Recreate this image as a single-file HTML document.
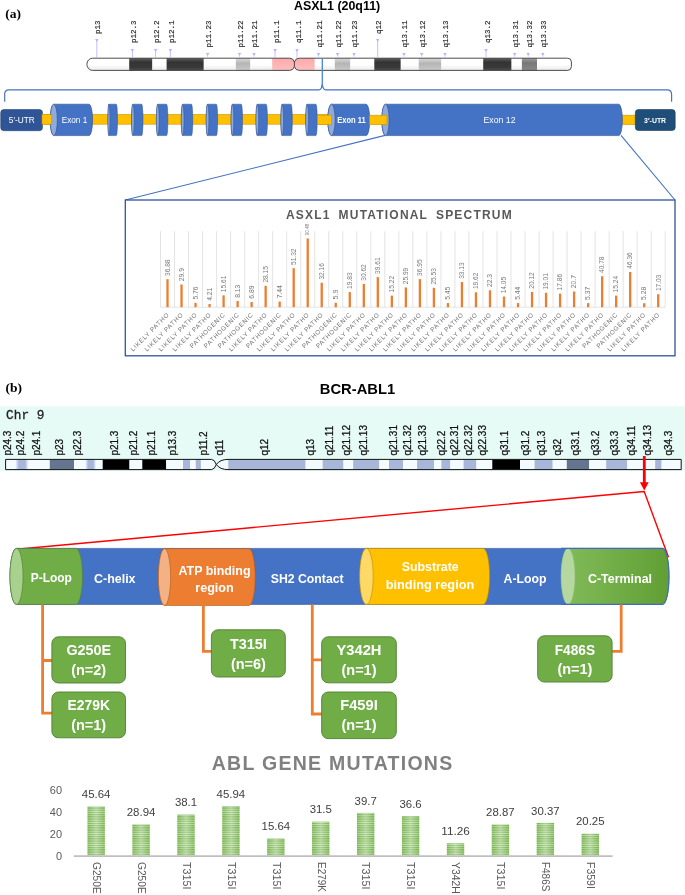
<!DOCTYPE html>
<html lang="en"><head><meta charset="utf-8"><title>ASXL1 and BCR-ABL1 mutational spectrum</title>
<style>html,body{margin:0;padding:0;background:#fff}body{width:685px;height:895px;overflow:hidden}svg{display:block}</style>
</head><body>
<svg width="685" height="895" viewBox="0 0 685 895">
<defs>
<linearGradient id="gDark" x1="0" y1="0" x2="0" y2="1"><stop offset="0" stop-color="#6a6a6a"/><stop offset="0.35" stop-color="#333"/><stop offset="0.7" stop-color="#3a3a3a"/><stop offset="1" stop-color="#5a5a5a"/></linearGradient>
<linearGradient id="gMid" x1="0" y1="0" x2="0" y2="1"><stop offset="0" stop-color="#a8a8a8"/><stop offset="0.4" stop-color="#777"/><stop offset="1" stop-color="#8c8c8c"/></linearGradient>
<linearGradient id="gLight" x1="0" y1="0" x2="0" y2="1"><stop offset="0" stop-color="#e2e2e2"/><stop offset="0.45" stop-color="#b4b4b4"/><stop offset="1" stop-color="#cfcfcf"/></linearGradient>
<linearGradient id="gWhite" x1="0" y1="0" x2="0" y2="1"><stop offset="0" stop-color="#fff"/><stop offset="0.5" stop-color="#fff"/><stop offset="1" stop-color="#e4e4e4"/></linearGradient>
<linearGradient id="gPink" x1="0" y1="0" x2="0" y2="1"><stop offset="0" stop-color="#ffa8a8"/><stop offset="0.5" stop-color="#ffb4b4"/><stop offset="1" stop-color="#f3c4c4"/></linearGradient>
<linearGradient id="gCterm" x1="0" y1="0" x2="1" y2="0"><stop offset="0" stop-color="#82bc5a"/><stop offset="1" stop-color="#619f34"/></linearGradient>
<linearGradient id="gBarH" x1="0" y1="0" x2="1" y2="0"><stop offset="0" stop-color="#fff" stop-opacity="0"/><stop offset="0.5" stop-color="#fff" stop-opacity="0.4"/><stop offset="1" stop-color="#fff" stop-opacity="0"/></linearGradient>
<pattern id="stripe" width="4" height="2.2" patternUnits="userSpaceOnUse"><rect width="4" height="2.2" fill="#72af48"/><rect y="1.3" width="4" height="0.9" fill="#b2d99a"/></pattern>
<linearGradient id="gB1" x1="0" y1="0" x2="1" y2="0"><stop offset="0" stop-color="#e8f0ff"/><stop offset="0.25" stop-color="#a8b6da"/><stop offset="0.75" stop-color="#a8b6da"/><stop offset="1" stop-color="#e8f0ff"/></linearGradient>
<clipPath id="c20"><path id="c20p" d="M92.5,58.2 H289.6 Q293.4,58.2 294.4,62 Q295.4,58.2 299.2,58.2 H567.6 Q571.4,58.2 571.4,62 V66.6 Q571.4,70.4 567.6,70.4 H299.2 Q295.4,70.4 294.4,66.6 Q293.4,70.4 289.6,70.4 H92.5 A5.6,6.1 0 0 1 92.5,58.2 Z M294.4,62 V66.6"/></clipPath>
</defs>
<rect width="685" height="895" fill="#fff"/>
<text x="5.3" y="18" font-family='"Liberation Serif", "Times New Roman", serif' font-weight="bold" font-size="13.5">(a)</text>
<text x="337.1" y="9.5" text-anchor="middle" font-family='"Liberation Sans", Arial, sans-serif' font-weight="bold" font-size="11.9" textLength="86.2" lengthAdjust="spacingAndGlyphs">ASXL1 (20q11)</text>
<g clip-path="url(#c20)">
<rect x="86" y="57" width="43.2" height="15" fill="url(#gWhite)"/>
<rect x="129.2" y="57" width="23.2" height="15" fill="url(#gDark)"/>
<rect x="152.4" y="57" width="14.2" height="15" fill="url(#gWhite)"/>
<rect x="166.6" y="57" width="37.2" height="15" fill="url(#gDark)"/>
<rect x="203.8" y="57" width="32.0" height="15" fill="url(#gWhite)"/>
<rect x="235.8" y="57" width="14.6" height="15" fill="url(#gLight)"/>
<rect x="250.4" y="57" width="21.8" height="15" fill="url(#gWhite)"/>
<rect x="272.2" y="57" width="42.6" height="15" fill="url(#gPink)"/>
<rect x="314.8" y="57" width="20.0" height="15" fill="url(#gWhite)"/>
<rect x="334.8" y="57" width="15.6" height="15" fill="url(#gLight)"/>
<rect x="350.4" y="57" width="23.9" height="15" fill="url(#gWhite)"/>
<rect x="374.3" y="57" width="26.5" height="15" fill="url(#gDark)"/>
<rect x="400.8" y="57" width="17.9" height="15" fill="url(#gWhite)"/>
<rect x="418.7" y="57" width="22.7" height="15" fill="url(#gLight)"/>
<rect x="441.4" y="57" width="41.8" height="15" fill="url(#gWhite)"/>
<rect x="483.2" y="57" width="28.4" height="15" fill="url(#gDark)"/>
<rect x="511.6" y="57" width="10.3" height="15" fill="url(#gWhite)"/>
<rect x="521.9" y="57" width="15.1" height="15" fill="url(#gMid)"/>
<rect x="537" y="57" width="35.0" height="15" fill="url(#gWhite)"/>
</g>
<use href="#c20p" fill="none" stroke="#3a3a3a" stroke-width="0.9"/>
<path d="M96.8,39.9 V58" stroke="#b9b9ff" stroke-width="0.9" fill="none"/>
<path d="M95.1,39.0 H98.5 L96.8,42.099999999999994 Z" fill="#b4b4ff"/>
<text transform="translate(100.2,20.6) rotate(-90)" text-anchor="end" font-family='"Liberation Mono", "Courier New", monospace' font-size="7.5" fill="#111" stroke="#111" stroke-width="0.12" textLength="13.5" lengthAdjust="spacingAndGlyphs">p13</text>
<path d="M132.4,49.800000000000004 V58" stroke="#b9b9ff" stroke-width="0.9" fill="none"/>
<path d="M130.70000000000002,48.900000000000006 H134.1 L132.4,52.0 Z" fill="#b4b4ff"/>
<text transform="translate(136.3,20.6) rotate(-90)" text-anchor="end" font-family='"Liberation Mono", "Courier New", monospace' font-size="7.5" fill="#111" stroke="#111" stroke-width="0.12" textLength="22.5" lengthAdjust="spacingAndGlyphs">p12.3</text>
<path d="M155.6,49.800000000000004 V58" stroke="#b9b9ff" stroke-width="0.9" fill="none"/>
<path d="M153.9,48.900000000000006 H157.29999999999998 L155.6,52.0 Z" fill="#b4b4ff"/>
<text transform="translate(159.4,20.6) rotate(-90)" text-anchor="end" font-family='"Liberation Mono", "Courier New", monospace' font-size="7.5" fill="#111" stroke="#111" stroke-width="0.12" textLength="22.5" lengthAdjust="spacingAndGlyphs">p12.2</text>
<path d="M170.4,49.800000000000004 V58" stroke="#b9b9ff" stroke-width="0.9" fill="none"/>
<path d="M168.70000000000002,48.900000000000006 H172.1 L170.4,52.0 Z" fill="#b4b4ff"/>
<text transform="translate(173.70000000000002,20.6) rotate(-90)" text-anchor="end" font-family='"Liberation Mono", "Courier New", monospace' font-size="7.5" fill="#111" stroke="#111" stroke-width="0.12" textLength="22.5" lengthAdjust="spacingAndGlyphs">p12.1</text>
<path d="M207.6,53.800000000000004 V58" stroke="#b9b9ff" stroke-width="0.5" fill="none"/>
<path d="M205.9,52.900000000000006 H209.29999999999998 L207.6,56.0 Z" fill="#b4b4ff"/>
<text transform="translate(211.0,20.6) rotate(-90)" text-anchor="end" font-family='"Liberation Mono", "Courier New", monospace' font-size="7.5" fill="#111" stroke="#111" stroke-width="0.12" textLength="27.0" lengthAdjust="spacingAndGlyphs">p11.23</text>
<path d="M239.5,53.800000000000004 V58" stroke="#b9b9ff" stroke-width="0.5" fill="none"/>
<path d="M237.8,52.900000000000006 H241.2 L239.5,56.0 Z" fill="#b4b4ff"/>
<text transform="translate(242.8,20.6) rotate(-90)" text-anchor="end" font-family='"Liberation Mono", "Courier New", monospace' font-size="7.5" fill="#111" stroke="#111" stroke-width="0.12" textLength="27.0" lengthAdjust="spacingAndGlyphs">p11.22</text>
<path d="M254,53.800000000000004 V58" stroke="#b9b9ff" stroke-width="0.5" fill="none"/>
<path d="M252.3,52.900000000000006 H255.7 L254,56.0 Z" fill="#b4b4ff"/>
<text transform="translate(257.3,20.6) rotate(-90)" text-anchor="end" font-family='"Liberation Mono", "Courier New", monospace' font-size="7.5" fill="#111" stroke="#111" stroke-width="0.12" textLength="27.0" lengthAdjust="spacingAndGlyphs">p11.21</text>
<path d="M275.1,49.800000000000004 V58" stroke="#b9b9ff" stroke-width="0.9" fill="none"/>
<path d="M273.40000000000003,48.900000000000006 H276.8 L275.1,52.0 Z" fill="#b4b4ff"/>
<text transform="translate(278.7,20.6) rotate(-90)" text-anchor="end" font-family='"Liberation Mono", "Courier New", monospace' font-size="7.5" fill="#111" stroke="#111" stroke-width="0.12" textLength="22.5" lengthAdjust="spacingAndGlyphs">p11.1</text>
<path d="M297,49.800000000000004 V58" stroke="#b9b9ff" stroke-width="0.9" fill="none"/>
<path d="M295.3,48.900000000000006 H298.7 L297,52.0 Z" fill="#b4b4ff"/>
<text transform="translate(300.5,20.6) rotate(-90)" text-anchor="end" font-family='"Liberation Mono", "Courier New", monospace' font-size="7.5" fill="#111" stroke="#111" stroke-width="0.12" textLength="22.5" lengthAdjust="spacingAndGlyphs">q11.1</text>
<path d="M318.5,53.800000000000004 V58" stroke="#b9b9ff" stroke-width="0.5" fill="none"/>
<path d="M316.8,52.900000000000006 H320.2 L318.5,56.0 Z" fill="#b4b4ff"/>
<text transform="translate(322.1,20.6) rotate(-90)" text-anchor="end" font-family='"Liberation Mono", "Courier New", monospace' font-size="7.5" fill="#111" stroke="#111" stroke-width="0.12" textLength="27.0" lengthAdjust="spacingAndGlyphs">q11.21</text>
<path d="M337.6,53.800000000000004 V58" stroke="#b9b9ff" stroke-width="0.5" fill="none"/>
<path d="M335.90000000000003,52.900000000000006 H339.3 L337.6,56.0 Z" fill="#b4b4ff"/>
<text transform="translate(341.1,20.6) rotate(-90)" text-anchor="end" font-family='"Liberation Mono", "Courier New", monospace' font-size="7.5" fill="#111" stroke="#111" stroke-width="0.12" textLength="27.0" lengthAdjust="spacingAndGlyphs">q11.22</text>
<path d="M354,53.800000000000004 V58" stroke="#b9b9ff" stroke-width="0.5" fill="none"/>
<path d="M352.3,52.900000000000006 H355.7 L354,56.0 Z" fill="#b4b4ff"/>
<text transform="translate(357.3,20.6) rotate(-90)" text-anchor="end" font-family='"Liberation Mono", "Courier New", monospace' font-size="7.5" fill="#111" stroke="#111" stroke-width="0.12" textLength="27.0" lengthAdjust="spacingAndGlyphs">q11.23</text>
<path d="M377.7,39.9 V58" stroke="#b9b9ff" stroke-width="0.9" fill="none"/>
<path d="M376.0,39.0 H379.4 L377.7,42.099999999999994 Z" fill="#b4b4ff"/>
<text transform="translate(381.0,20.6) rotate(-90)" text-anchor="end" font-family='"Liberation Mono", "Courier New", monospace' font-size="7.5" fill="#111" stroke="#111" stroke-width="0.12" textLength="13.5" lengthAdjust="spacingAndGlyphs">q12</text>
<path d="M404,53.800000000000004 V58" stroke="#b9b9ff" stroke-width="0.5" fill="none"/>
<path d="M402.3,52.900000000000006 H405.7 L404,56.0 Z" fill="#b4b4ff"/>
<text transform="translate(407.3,20.6) rotate(-90)" text-anchor="end" font-family='"Liberation Mono", "Courier New", monospace' font-size="7.5" fill="#111" stroke="#111" stroke-width="0.12" textLength="27.0" lengthAdjust="spacingAndGlyphs">q13.11</text>
<path d="M421.7,53.800000000000004 V58" stroke="#b9b9ff" stroke-width="0.5" fill="none"/>
<path d="M420.0,52.900000000000006 H423.4 L421.7,56.0 Z" fill="#b4b4ff"/>
<text transform="translate(425.0,20.6) rotate(-90)" text-anchor="end" font-family='"Liberation Mono", "Courier New", monospace' font-size="7.5" fill="#111" stroke="#111" stroke-width="0.12" textLength="27.0" lengthAdjust="spacingAndGlyphs">q13.12</text>
<path d="M445,53.800000000000004 V58" stroke="#b9b9ff" stroke-width="0.5" fill="none"/>
<path d="M443.3,52.900000000000006 H446.7 L445,56.0 Z" fill="#b4b4ff"/>
<text transform="translate(448.3,20.6) rotate(-90)" text-anchor="end" font-family='"Liberation Mono", "Courier New", monospace' font-size="7.5" fill="#111" stroke="#111" stroke-width="0.12" textLength="27.0" lengthAdjust="spacingAndGlyphs">q13.13</text>
<path d="M486,49.800000000000004 V58" stroke="#b9b9ff" stroke-width="0.9" fill="none"/>
<path d="M484.3,48.900000000000006 H487.7 L486,52.0 Z" fill="#b4b4ff"/>
<text transform="translate(489.5,20.6) rotate(-90)" text-anchor="end" font-family='"Liberation Mono", "Courier New", monospace' font-size="7.5" fill="#111" stroke="#111" stroke-width="0.12" textLength="22.5" lengthAdjust="spacingAndGlyphs">q13.2</text>
<path d="M514.7,53.800000000000004 V58" stroke="#b9b9ff" stroke-width="0.5" fill="none"/>
<path d="M513.0,52.900000000000006 H516.4000000000001 L514.7,56.0 Z" fill="#b4b4ff"/>
<text transform="translate(518.0,20.6) rotate(-90)" text-anchor="end" font-family='"Liberation Mono", "Courier New", monospace' font-size="7.5" fill="#111" stroke="#111" stroke-width="0.12" textLength="27.0" lengthAdjust="spacingAndGlyphs">q13.31</text>
<path d="M528.2,53.800000000000004 V58" stroke="#b9b9ff" stroke-width="0.5" fill="none"/>
<path d="M526.5,52.900000000000006 H529.9000000000001 L528.2,56.0 Z" fill="#b4b4ff"/>
<text transform="translate(531.5,20.6) rotate(-90)" text-anchor="end" font-family='"Liberation Mono", "Courier New", monospace' font-size="7.5" fill="#111" stroke="#111" stroke-width="0.12" textLength="27.0" lengthAdjust="spacingAndGlyphs">q13.32</text>
<path d="M542.8,53.800000000000004 V58" stroke="#b9b9ff" stroke-width="0.5" fill="none"/>
<path d="M541.0999999999999,52.900000000000006 H544.5 L542.8,56.0 Z" fill="#b4b4ff"/>
<text transform="translate(546.0999999999999,20.6) rotate(-90)" text-anchor="end" font-family='"Liberation Mono", "Courier New", monospace' font-size="7.5" fill="#111" stroke="#111" stroke-width="0.12" textLength="27.0" lengthAdjust="spacingAndGlyphs">q13.33</text>
<path d="M4.7,101.8 V94 Q4.7,89.8 9,89.8 H319 Q321.6,89.8 322.3,84 Q323,89.8 325.6,89.8 H667 Q671.6,89.8 671.6,94.5 V101.8" fill="none" stroke="#4472c4" stroke-width="1.2"/>
<path d="M322.3,58.5 V86" fill="none" stroke="#4a86d0" stroke-width="1.3"/>
<path d="M385,135.4 L125.3,200 M621,135.4 L675,200" fill="none" stroke="#4472c4" stroke-width="1.1"/>
<rect x="42" y="114.5" width="290" height="9.7" fill="#ffc000" stroke="#c79500" stroke-width="0.6"/>
<rect x="0.7" y="109.5" width="41.8" height="21.2" rx="3.2" fill="#2f5597" stroke="#26467c" stroke-width="0.6"/>
<text x="21.8" y="123.2" text-anchor="middle" font-family='"Liberation Sans", Arial, sans-serif' font-size="8.8" fill="#fff" textLength="26" lengthAdjust="spacingAndGlyphs">5′-UTR</text>
<rect x="622" y="115.2" width="14" height="9.3" fill="#ffc000" stroke="#c79500" stroke-width="0.6"/>
<rect x="635.3" y="109.5" width="39.9" height="21" rx="3.2" fill="#1f4e79" stroke="#173a5b" stroke-width="0.6"/>
<text x="655.1" y="123" text-anchor="middle" font-family='"Liberation Sans", Arial, sans-serif' font-weight="bold" font-size="7.6" fill="#fff" textLength="22" lengthAdjust="spacingAndGlyphs">3′-UTR</text>
<path d="M53.75,104.20 H89.05 A3.55,15.70 0 0 1 89.05,135.60 H53.75 A3.55,15.70 0 0 1 53.75,104.20 Z" fill="#4472c4" stroke="#2f528f" stroke-width="0.6"/>
<ellipse cx="53.75" cy="119.90" rx="3.55" ry="15.70" fill="#8faadc" stroke="#2f528f" stroke-width="0.6"/>
<text x="74.5" y="122.9" text-anchor="middle" font-family='"Liberation Sans", Arial, sans-serif' font-size="8.6" fill="#fff" textLength="25.6" lengthAdjust="spacingAndGlyphs">Exon 1</text>
<path d="M108.90,104.20 H116.30 A1.20,15.70 0 0 1 116.30,135.60 H108.90 A1.00,15.70 0 0 1 108.90,104.20 Z" fill="#4472c4" stroke="#2f528f" stroke-width="0.5"/>
<ellipse cx="108.90" cy="119.90" rx="1.00" ry="15.70" fill="#8faadc" stroke="#2f528f" stroke-width="0.5"/>
<path d="M132.85,104.20 H141.70 A1.30,15.70 0 0 1 141.70,135.60 H132.85 A1.35,15.70 0 0 1 132.85,104.20 Z" fill="#4472c4" stroke="#2f528f" stroke-width="0.5"/>
<ellipse cx="132.85" cy="119.90" rx="1.35" ry="15.70" fill="#8faadc" stroke="#2f528f" stroke-width="0.5"/>
<path d="M157.74,104.20 H166.59 A1.30,15.70 0 0 1 166.59,135.60 H157.74 A1.35,15.70 0 0 1 157.74,104.20 Z" fill="#4472c4" stroke="#2f528f" stroke-width="0.5"/>
<ellipse cx="157.74" cy="119.90" rx="1.35" ry="15.70" fill="#8faadc" stroke="#2f528f" stroke-width="0.5"/>
<path d="M182.63,104.20 H191.48 A1.30,15.70 0 0 1 191.48,135.60 H182.63 A1.35,15.70 0 0 1 182.63,104.20 Z" fill="#4472c4" stroke="#2f528f" stroke-width="0.5"/>
<ellipse cx="182.63" cy="119.90" rx="1.35" ry="15.70" fill="#8faadc" stroke="#2f528f" stroke-width="0.5"/>
<path d="M207.52,104.20 H216.37 A1.30,15.70 0 0 1 216.37,135.60 H207.52 A1.35,15.70 0 0 1 207.52,104.20 Z" fill="#4472c4" stroke="#2f528f" stroke-width="0.5"/>
<ellipse cx="207.52" cy="119.90" rx="1.35" ry="15.70" fill="#8faadc" stroke="#2f528f" stroke-width="0.5"/>
<path d="M232.41,104.20 H241.26 A1.30,15.70 0 0 1 241.26,135.60 H232.41 A1.35,15.70 0 0 1 232.41,104.20 Z" fill="#4472c4" stroke="#2f528f" stroke-width="0.5"/>
<ellipse cx="232.41" cy="119.90" rx="1.35" ry="15.70" fill="#8faadc" stroke="#2f528f" stroke-width="0.5"/>
<path d="M257.30,104.20 H266.15 A1.30,15.70 0 0 1 266.15,135.60 H257.30 A1.35,15.70 0 0 1 257.30,104.20 Z" fill="#4472c4" stroke="#2f528f" stroke-width="0.5"/>
<ellipse cx="257.30" cy="119.90" rx="1.35" ry="15.70" fill="#8faadc" stroke="#2f528f" stroke-width="0.5"/>
<path d="M282.19,104.20 H291.04 A1.30,15.70 0 0 1 291.04,135.60 H282.19 A1.35,15.70 0 0 1 282.19,104.20 Z" fill="#4472c4" stroke="#2f528f" stroke-width="0.5"/>
<ellipse cx="282.19" cy="119.90" rx="1.35" ry="15.70" fill="#8faadc" stroke="#2f528f" stroke-width="0.5"/>
<path d="M307.08,104.20 H315.93 A1.30,15.70 0 0 1 315.93,135.60 H307.08 A1.35,15.70 0 0 1 307.08,104.20 Z" fill="#4472c4" stroke="#2f528f" stroke-width="0.5"/>
<ellipse cx="307.08" cy="119.90" rx="1.35" ry="15.70" fill="#8faadc" stroke="#2f528f" stroke-width="0.5"/>
<path d="M331.45,104.20 H366.15 A3.65,15.70 0 0 1 366.15,135.60 H331.45 A3.65,15.70 0 0 1 331.45,104.20 Z" fill="#4472c4" stroke="#2f528f" stroke-width="0.6"/>
<ellipse cx="331.45" cy="119.90" rx="3.65" ry="15.70" fill="#8faadc" stroke="#2f528f" stroke-width="0.6"/>
<text x="351.5" y="122.9" text-anchor="middle" font-family='"Liberation Sans", Arial, sans-serif' font-weight="bold" font-size="8.2" fill="#fff" textLength="28.6" lengthAdjust="spacingAndGlyphs">Exon 11</text>
<path d="M385.45,104.20 H618.75 A3.65,15.70 0 0 1 618.75,135.60 H385.45 A3.65,15.70 0 0 1 385.45,104.20 Z" fill="#4472c4" stroke="#2f528f" stroke-width="0.6"/>
<ellipse cx="385.45" cy="119.90" rx="3.65" ry="15.70" fill="#8faadc" stroke="#2f528f" stroke-width="0.6"/>
<rect x="42" y="114.5" width="9.8" height="9.7" fill="#ffc000" stroke="#c79500" stroke-width="0.6"/>
<rect x="317.6" y="115.1" width="13.8" height="9.5" fill="#ffc000" stroke="#c79500" stroke-width="0.6"/>
<rect x="369.6" y="115.2" width="17.3" height="9.5" fill="#ffc000" stroke="#c79500" stroke-width="0.6"/>
<text x="499.5" y="122.7" text-anchor="middle" font-family='"Liberation Sans", Arial, sans-serif' font-size="8.6" fill="#fff" textLength="32" lengthAdjust="spacingAndGlyphs">Exon 12</text>
<rect x="125.3" y="200" width="549.7" height="155.8" fill="#fff" stroke="#2f5597" stroke-width="1.3"/>
<text x="285.9" y="218.8" font-family='"Liberation Sans", Arial, sans-serif' font-weight="bold" font-size="12" fill="#595959" word-spacing="3.5" textLength="225.8" lengthAdjust="spacing">ASXL1 MUTATIONAL SPECTRUM</text>
<path d="M160.50,231.2 V307.2" stroke="#d9d9d9" stroke-width="0.7"/>
<path d="M174.52,231.2 V307.2" stroke="#d9d9d9" stroke-width="0.7"/>
<path d="M188.54,231.2 V307.2" stroke="#d9d9d9" stroke-width="0.7"/>
<path d="M202.56,231.2 V307.2" stroke="#d9d9d9" stroke-width="0.7"/>
<path d="M216.58,231.2 V307.2" stroke="#d9d9d9" stroke-width="0.7"/>
<path d="M230.60,231.2 V307.2" stroke="#d9d9d9" stroke-width="0.7"/>
<path d="M244.62,231.2 V307.2" stroke="#d9d9d9" stroke-width="0.7"/>
<path d="M258.64,231.2 V307.2" stroke="#d9d9d9" stroke-width="0.7"/>
<path d="M272.66,231.2 V307.2" stroke="#d9d9d9" stroke-width="0.7"/>
<path d="M286.68,231.2 V307.2" stroke="#d9d9d9" stroke-width="0.7"/>
<path d="M300.70,231.2 V307.2" stroke="#d9d9d9" stroke-width="0.7"/>
<path d="M314.72,231.2 V307.2" stroke="#d9d9d9" stroke-width="0.7"/>
<path d="M328.74,231.2 V307.2" stroke="#d9d9d9" stroke-width="0.7"/>
<path d="M342.76,231.2 V307.2" stroke="#d9d9d9" stroke-width="0.7"/>
<path d="M356.78,231.2 V307.2" stroke="#d9d9d9" stroke-width="0.7"/>
<path d="M370.80,231.2 V307.2" stroke="#d9d9d9" stroke-width="0.7"/>
<path d="M384.82,231.2 V307.2" stroke="#d9d9d9" stroke-width="0.7"/>
<path d="M398.84,231.2 V307.2" stroke="#d9d9d9" stroke-width="0.7"/>
<path d="M412.86,231.2 V307.2" stroke="#d9d9d9" stroke-width="0.7"/>
<path d="M426.88,231.2 V307.2" stroke="#d9d9d9" stroke-width="0.7"/>
<path d="M440.90,231.2 V307.2" stroke="#d9d9d9" stroke-width="0.7"/>
<path d="M454.92,231.2 V307.2" stroke="#d9d9d9" stroke-width="0.7"/>
<path d="M468.94,231.2 V307.2" stroke="#d9d9d9" stroke-width="0.7"/>
<path d="M482.96,231.2 V307.2" stroke="#d9d9d9" stroke-width="0.7"/>
<path d="M496.98,231.2 V307.2" stroke="#d9d9d9" stroke-width="0.7"/>
<path d="M511.00,231.2 V307.2" stroke="#d9d9d9" stroke-width="0.7"/>
<path d="M525.02,231.2 V307.2" stroke="#d9d9d9" stroke-width="0.7"/>
<path d="M539.04,231.2 V307.2" stroke="#d9d9d9" stroke-width="0.7"/>
<path d="M553.06,231.2 V307.2" stroke="#d9d9d9" stroke-width="0.7"/>
<path d="M567.08,231.2 V307.2" stroke="#d9d9d9" stroke-width="0.7"/>
<path d="M581.10,231.2 V307.2" stroke="#d9d9d9" stroke-width="0.7"/>
<path d="M595.12,231.2 V307.2" stroke="#d9d9d9" stroke-width="0.7"/>
<path d="M609.14,231.2 V307.2" stroke="#d9d9d9" stroke-width="0.7"/>
<path d="M623.16,231.2 V307.2" stroke="#d9d9d9" stroke-width="0.7"/>
<path d="M637.18,231.2 V307.2" stroke="#d9d9d9" stroke-width="0.7"/>
<path d="M651.20,231.2 V307.2" stroke="#d9d9d9" stroke-width="0.7"/>
<path d="M665.22,231.2 V307.2" stroke="#d9d9d9" stroke-width="0.7"/>
<path d="M160.5,307.2 H665.22" stroke="#d9d9d9" stroke-width="0.7"/>
<rect x="166.36" y="279.17" width="2.3" height="28.03" fill="#ed7d31"/>
<text transform="translate(169.81,275.97) rotate(-90)" font-family='"Liberation Sans", Arial, sans-serif' font-size="6.4" fill="#7a7a7a" textLength="16.5" lengthAdjust="spacingAndGlyphs">36.88</text>
<text transform="translate(169.11,315.60) rotate(-45)" text-anchor="end" font-family='"Liberation Sans", Arial, sans-serif' font-size="6.3" fill="#747474" textLength="51" lengthAdjust="spacing">LIKELY PATHO</text>
<rect x="180.38" y="284.48" width="2.3" height="22.72" fill="#ed7d31"/>
<text transform="translate(183.83,281.28) rotate(-90)" font-family='"Liberation Sans", Arial, sans-serif' font-size="6.4" fill="#7a7a7a" textLength="13.2" lengthAdjust="spacingAndGlyphs">29.9</text>
<text transform="translate(183.13,315.60) rotate(-45)" text-anchor="end" font-family='"Liberation Sans", Arial, sans-serif' font-size="6.3" fill="#747474" textLength="51" lengthAdjust="spacing">LIKELY PATHO</text>
<rect x="194.40" y="302.82" width="2.3" height="4.38" fill="#ed7d31"/>
<text transform="translate(197.85,299.62) rotate(-90)" font-family='"Liberation Sans", Arial, sans-serif' font-size="6.4" fill="#7a7a7a" textLength="13.2" lengthAdjust="spacingAndGlyphs">5.76</text>
<text transform="translate(197.15,315.60) rotate(-45)" text-anchor="end" font-family='"Liberation Sans", Arial, sans-serif' font-size="6.3" fill="#747474" textLength="51" lengthAdjust="spacing">LIKELY PATHO</text>
<rect x="208.42" y="304.00" width="2.3" height="3.20" fill="#ed7d31"/>
<text transform="translate(211.87,300.80) rotate(-90)" font-family='"Liberation Sans", Arial, sans-serif' font-size="6.4" fill="#7a7a7a" textLength="13.2" lengthAdjust="spacingAndGlyphs">4.21</text>
<text transform="translate(211.17,315.60) rotate(-45)" text-anchor="end" font-family='"Liberation Sans", Arial, sans-serif' font-size="6.3" fill="#747474" textLength="51" lengthAdjust="spacing">LIKELY PATHO</text>
<rect x="222.44" y="295.34" width="2.3" height="11.86" fill="#ed7d31"/>
<text transform="translate(225.89,292.14) rotate(-90)" font-family='"Liberation Sans", Arial, sans-serif' font-size="6.4" fill="#7a7a7a" textLength="16.5" lengthAdjust="spacingAndGlyphs">15.61</text>
<text transform="translate(225.19,315.60) rotate(-45)" text-anchor="end" font-family='"Liberation Sans", Arial, sans-serif' font-size="6.3" fill="#747474" textLength="46.5" lengthAdjust="spacing">PATHOGENIC</text>
<rect x="236.46" y="301.02" width="2.3" height="6.18" fill="#ed7d31"/>
<text transform="translate(239.91,297.82) rotate(-90)" font-family='"Liberation Sans", Arial, sans-serif' font-size="6.4" fill="#7a7a7a" textLength="13.2" lengthAdjust="spacingAndGlyphs">8.13</text>
<text transform="translate(239.21,315.60) rotate(-45)" text-anchor="end" font-family='"Liberation Sans", Arial, sans-serif' font-size="6.3" fill="#747474" textLength="46.5" lengthAdjust="spacing">PATHOGENIC</text>
<rect x="250.48" y="301.96" width="2.3" height="5.24" fill="#ed7d31"/>
<text transform="translate(253.93,298.76) rotate(-90)" font-family='"Liberation Sans", Arial, sans-serif' font-size="6.4" fill="#7a7a7a" textLength="13.2" lengthAdjust="spacingAndGlyphs">6.89</text>
<text transform="translate(253.23,315.60) rotate(-45)" text-anchor="end" font-family='"Liberation Sans", Arial, sans-serif' font-size="6.3" fill="#747474" textLength="46.5" lengthAdjust="spacing">PATHOGENIC</text>
<rect x="264.50" y="285.81" width="2.3" height="21.39" fill="#ed7d31"/>
<text transform="translate(267.95,282.61) rotate(-90)" font-family='"Liberation Sans", Arial, sans-serif' font-size="6.4" fill="#7a7a7a" textLength="16.5" lengthAdjust="spacingAndGlyphs">28.15</text>
<text transform="translate(267.25,315.60) rotate(-45)" text-anchor="end" font-family='"Liberation Sans", Arial, sans-serif' font-size="6.3" fill="#747474" textLength="51" lengthAdjust="spacing">LIKELY PATHO</text>
<rect x="278.52" y="301.55" width="2.3" height="5.65" fill="#ed7d31"/>
<text transform="translate(281.97,298.35) rotate(-90)" font-family='"Liberation Sans", Arial, sans-serif' font-size="6.4" fill="#7a7a7a" textLength="13.2" lengthAdjust="spacingAndGlyphs">7.44</text>
<text transform="translate(281.27,315.60) rotate(-45)" text-anchor="end" font-family='"Liberation Sans", Arial, sans-serif' font-size="6.3" fill="#747474" textLength="46.5" lengthAdjust="spacing">PATHOGENIC</text>
<rect x="292.54" y="268.20" width="2.3" height="39.00" fill="#ed7d31"/>
<text transform="translate(295.99,265.00) rotate(-90)" font-family='"Liberation Sans", Arial, sans-serif' font-size="6.4" fill="#7a7a7a" textLength="16.5" lengthAdjust="spacingAndGlyphs">51.32</text>
<text transform="translate(295.29,315.60) rotate(-45)" text-anchor="end" font-family='"Liberation Sans", Arial, sans-serif' font-size="6.3" fill="#747474" textLength="51" lengthAdjust="spacing">LIKELY PATHO</text>
<rect x="306.56" y="238.44" width="2.3" height="68.76" fill="#ed7d31"/>
<text transform="translate(309.41,235.24) rotate(-90)" font-family='"Liberation Sans", Arial, sans-serif' font-size="4.6" fill="#7a7a7a" textLength="11.5" lengthAdjust="spacingAndGlyphs">90.48</text>
<text transform="translate(309.31,315.60) rotate(-45)" text-anchor="end" font-family='"Liberation Sans", Arial, sans-serif' font-size="6.3" fill="#747474" textLength="51" lengthAdjust="spacing">LIKELY PATHO</text>
<rect x="320.58" y="282.76" width="2.3" height="24.44" fill="#ed7d31"/>
<text transform="translate(324.03,279.56) rotate(-90)" font-family='"Liberation Sans", Arial, sans-serif' font-size="6.4" fill="#7a7a7a" textLength="16.5" lengthAdjust="spacingAndGlyphs">32.16</text>
<text transform="translate(323.33,315.60) rotate(-45)" text-anchor="end" font-family='"Liberation Sans", Arial, sans-serif' font-size="6.3" fill="#747474" textLength="51" lengthAdjust="spacing">LIKELY PATHO</text>
<rect x="334.60" y="302.72" width="2.3" height="4.48" fill="#ed7d31"/>
<text transform="translate(338.05,299.52) rotate(-90)" font-family='"Liberation Sans", Arial, sans-serif' font-size="6.4" fill="#7a7a7a" textLength="9.9" lengthAdjust="spacingAndGlyphs">5.9</text>
<text transform="translate(337.35,315.60) rotate(-45)" text-anchor="end" font-family='"Liberation Sans", Arial, sans-serif' font-size="6.3" fill="#747474" textLength="46.5" lengthAdjust="spacing">PATHOGENIC</text>
<rect x="348.62" y="292.13" width="2.3" height="15.07" fill="#ed7d31"/>
<text transform="translate(352.07,288.93) rotate(-90)" font-family='"Liberation Sans", Arial, sans-serif' font-size="6.4" fill="#7a7a7a" textLength="16.5" lengthAdjust="spacingAndGlyphs">19.83</text>
<text transform="translate(351.37,315.60) rotate(-45)" text-anchor="end" font-family='"Liberation Sans", Arial, sans-serif' font-size="6.3" fill="#747474" textLength="46.5" lengthAdjust="spacing">PATHOGENIC</text>
<rect x="362.64" y="283.93" width="2.3" height="23.27" fill="#ed7d31"/>
<text transform="translate(366.09,280.73) rotate(-90)" font-family='"Liberation Sans", Arial, sans-serif' font-size="6.4" fill="#7a7a7a" textLength="16.5" lengthAdjust="spacingAndGlyphs">30.62</text>
<text transform="translate(365.39,315.60) rotate(-45)" text-anchor="end" font-family='"Liberation Sans", Arial, sans-serif' font-size="6.3" fill="#747474" textLength="51" lengthAdjust="spacing">LIKELY PATHO</text>
<rect x="376.66" y="277.10" width="2.3" height="30.10" fill="#ed7d31"/>
<text transform="translate(380.11,273.90) rotate(-90)" font-family='"Liberation Sans", Arial, sans-serif' font-size="6.4" fill="#7a7a7a" textLength="16.5" lengthAdjust="spacingAndGlyphs">39.61</text>
<text transform="translate(379.41,315.60) rotate(-45)" text-anchor="end" font-family='"Liberation Sans", Arial, sans-serif' font-size="6.3" fill="#747474" textLength="51" lengthAdjust="spacing">LIKELY PATHO</text>
<rect x="390.68" y="295.63" width="2.3" height="11.57" fill="#ed7d31"/>
<text transform="translate(394.13,292.43) rotate(-90)" font-family='"Liberation Sans", Arial, sans-serif' font-size="6.4" fill="#7a7a7a" textLength="16.5" lengthAdjust="spacingAndGlyphs">15.22</text>
<text transform="translate(393.43,315.60) rotate(-45)" text-anchor="end" font-family='"Liberation Sans", Arial, sans-serif' font-size="6.3" fill="#747474" textLength="51" lengthAdjust="spacing">LIKELY PATHO</text>
<rect x="404.70" y="287.45" width="2.3" height="19.75" fill="#ed7d31"/>
<text transform="translate(408.15,284.25) rotate(-90)" font-family='"Liberation Sans", Arial, sans-serif' font-size="6.4" fill="#7a7a7a" textLength="16.5" lengthAdjust="spacingAndGlyphs">25.99</text>
<text transform="translate(407.45,315.60) rotate(-45)" text-anchor="end" font-family='"Liberation Sans", Arial, sans-serif' font-size="6.3" fill="#747474" textLength="51" lengthAdjust="spacing">LIKELY PATHO</text>
<rect x="418.72" y="279.12" width="2.3" height="28.08" fill="#ed7d31"/>
<text transform="translate(422.17,275.92) rotate(-90)" font-family='"Liberation Sans", Arial, sans-serif' font-size="6.4" fill="#7a7a7a" textLength="16.5" lengthAdjust="spacingAndGlyphs">36.95</text>
<text transform="translate(421.47,315.60) rotate(-45)" text-anchor="end" font-family='"Liberation Sans", Arial, sans-serif' font-size="6.3" fill="#747474" textLength="51" lengthAdjust="spacing">LIKELY PATHO</text>
<rect x="432.74" y="287.80" width="2.3" height="19.40" fill="#ed7d31"/>
<text transform="translate(436.19,284.60) rotate(-90)" font-family='"Liberation Sans", Arial, sans-serif' font-size="6.4" fill="#7a7a7a" textLength="16.5" lengthAdjust="spacingAndGlyphs">25.53</text>
<text transform="translate(435.49,315.60) rotate(-45)" text-anchor="end" font-family='"Liberation Sans", Arial, sans-serif' font-size="6.3" fill="#747474" textLength="51" lengthAdjust="spacing">LIKELY PATHO</text>
<rect x="446.76" y="303.06" width="2.3" height="4.14" fill="#ed7d31"/>
<text transform="translate(450.21,299.86) rotate(-90)" font-family='"Liberation Sans", Arial, sans-serif' font-size="6.4" fill="#7a7a7a" textLength="13.2" lengthAdjust="spacingAndGlyphs">5.45</text>
<text transform="translate(449.51,315.60) rotate(-45)" text-anchor="end" font-family='"Liberation Sans", Arial, sans-serif' font-size="6.3" fill="#747474" textLength="51" lengthAdjust="spacing">LIKELY PATHO</text>
<rect x="460.78" y="282.02" width="2.3" height="25.18" fill="#ed7d31"/>
<text transform="translate(464.23,278.82) rotate(-90)" font-family='"Liberation Sans", Arial, sans-serif' font-size="6.4" fill="#7a7a7a" textLength="16.5" lengthAdjust="spacingAndGlyphs">33.13</text>
<text transform="translate(463.53,315.60) rotate(-45)" text-anchor="end" font-family='"Liberation Sans", Arial, sans-serif' font-size="6.3" fill="#747474" textLength="51" lengthAdjust="spacing">LIKELY PATHO</text>
<rect x="474.80" y="292.29" width="2.3" height="14.91" fill="#ed7d31"/>
<text transform="translate(478.25,289.09) rotate(-90)" font-family='"Liberation Sans", Arial, sans-serif' font-size="6.4" fill="#7a7a7a" textLength="16.5" lengthAdjust="spacingAndGlyphs">19.62</text>
<text transform="translate(477.55,315.60) rotate(-45)" text-anchor="end" font-family='"Liberation Sans", Arial, sans-serif' font-size="6.3" fill="#747474" textLength="51" lengthAdjust="spacing">LIKELY PATHO</text>
<rect x="488.82" y="290.25" width="2.3" height="16.95" fill="#ed7d31"/>
<text transform="translate(492.27,287.05) rotate(-90)" font-family='"Liberation Sans", Arial, sans-serif' font-size="6.4" fill="#7a7a7a" textLength="13.2" lengthAdjust="spacingAndGlyphs">22.3</text>
<text transform="translate(491.57,315.60) rotate(-45)" text-anchor="end" font-family='"Liberation Sans", Arial, sans-serif' font-size="6.3" fill="#747474" textLength="51" lengthAdjust="spacing">LIKELY PATHO</text>
<rect x="502.84" y="296.52" width="2.3" height="10.68" fill="#ed7d31"/>
<text transform="translate(506.29,293.32) rotate(-90)" font-family='"Liberation Sans", Arial, sans-serif' font-size="6.4" fill="#7a7a7a" textLength="16.5" lengthAdjust="spacingAndGlyphs">14.05</text>
<text transform="translate(505.59,315.60) rotate(-45)" text-anchor="end" font-family='"Liberation Sans", Arial, sans-serif' font-size="6.3" fill="#747474" textLength="51" lengthAdjust="spacing">LIKELY PATHO</text>
<rect x="516.86" y="303.07" width="2.3" height="4.13" fill="#ed7d31"/>
<text transform="translate(520.31,299.87) rotate(-90)" font-family='"Liberation Sans", Arial, sans-serif' font-size="6.4" fill="#7a7a7a" textLength="13.2" lengthAdjust="spacingAndGlyphs">5.44</text>
<text transform="translate(519.61,315.60) rotate(-45)" text-anchor="end" font-family='"Liberation Sans", Arial, sans-serif' font-size="6.3" fill="#747474" textLength="51" lengthAdjust="spacing">LIKELY PATHO</text>
<rect x="530.88" y="291.91" width="2.3" height="15.29" fill="#ed7d31"/>
<text transform="translate(534.33,288.71) rotate(-90)" font-family='"Liberation Sans", Arial, sans-serif' font-size="6.4" fill="#7a7a7a" textLength="16.5" lengthAdjust="spacingAndGlyphs">20.12</text>
<text transform="translate(533.63,315.60) rotate(-45)" text-anchor="end" font-family='"Liberation Sans", Arial, sans-serif' font-size="6.3" fill="#747474" textLength="51" lengthAdjust="spacing">LIKELY PATHO</text>
<rect x="544.90" y="292.75" width="2.3" height="14.45" fill="#ed7d31"/>
<text transform="translate(548.35,289.55) rotate(-90)" font-family='"Liberation Sans", Arial, sans-serif' font-size="6.4" fill="#7a7a7a" textLength="16.5" lengthAdjust="spacingAndGlyphs">19.01</text>
<text transform="translate(547.65,315.60) rotate(-45)" text-anchor="end" font-family='"Liberation Sans", Arial, sans-serif' font-size="6.3" fill="#747474" textLength="51" lengthAdjust="spacing">LIKELY PATHO</text>
<rect x="558.92" y="293.63" width="2.3" height="13.57" fill="#ed7d31"/>
<text transform="translate(562.37,290.43) rotate(-90)" font-family='"Liberation Sans", Arial, sans-serif' font-size="6.4" fill="#7a7a7a" textLength="16.5" lengthAdjust="spacingAndGlyphs">17.86</text>
<text transform="translate(561.67,315.60) rotate(-45)" text-anchor="end" font-family='"Liberation Sans", Arial, sans-serif' font-size="6.3" fill="#747474" textLength="51" lengthAdjust="spacing">LIKELY PATHO</text>
<rect x="572.94" y="291.47" width="2.3" height="15.73" fill="#ed7d31"/>
<text transform="translate(576.39,288.27) rotate(-90)" font-family='"Liberation Sans", Arial, sans-serif' font-size="6.4" fill="#7a7a7a" textLength="13.2" lengthAdjust="spacingAndGlyphs">20.7</text>
<text transform="translate(575.69,315.60) rotate(-45)" text-anchor="end" font-family='"Liberation Sans", Arial, sans-serif' font-size="6.3" fill="#747474" textLength="51" lengthAdjust="spacing">LIKELY PATHO</text>
<rect x="586.96" y="303.12" width="2.3" height="4.08" fill="#ed7d31"/>
<text transform="translate(590.41,299.92) rotate(-90)" font-family='"Liberation Sans", Arial, sans-serif' font-size="6.4" fill="#7a7a7a" textLength="13.2" lengthAdjust="spacingAndGlyphs">5.37</text>
<text transform="translate(589.71,315.60) rotate(-45)" text-anchor="end" font-family='"Liberation Sans", Arial, sans-serif' font-size="6.3" fill="#747474" textLength="51" lengthAdjust="spacing">LIKELY PATHO</text>
<rect x="600.98" y="276.21" width="2.3" height="30.99" fill="#ed7d31"/>
<text transform="translate(604.43,273.01) rotate(-90)" font-family='"Liberation Sans", Arial, sans-serif' font-size="6.4" fill="#7a7a7a" textLength="16.5" lengthAdjust="spacingAndGlyphs">40.78</text>
<text transform="translate(603.73,315.60) rotate(-45)" text-anchor="end" font-family='"Liberation Sans", Arial, sans-serif' font-size="6.3" fill="#747474" textLength="51" lengthAdjust="spacing">LIKELY PATHO</text>
<rect x="615.00" y="295.62" width="2.3" height="11.58" fill="#ed7d31"/>
<text transform="translate(618.45,292.42) rotate(-90)" font-family='"Liberation Sans", Arial, sans-serif' font-size="6.4" fill="#7a7a7a" textLength="16.5" lengthAdjust="spacingAndGlyphs">15.24</text>
<text transform="translate(617.75,315.60) rotate(-45)" text-anchor="end" font-family='"Liberation Sans", Arial, sans-serif' font-size="6.3" fill="#747474" textLength="46.5" lengthAdjust="spacing">PATHOGENIC</text>
<rect x="629.02" y="271.97" width="2.3" height="35.23" fill="#ed7d31"/>
<text transform="translate(632.47,268.77) rotate(-90)" font-family='"Liberation Sans", Arial, sans-serif' font-size="6.4" fill="#7a7a7a" textLength="16.5" lengthAdjust="spacingAndGlyphs">46.36</text>
<text transform="translate(631.77,315.60) rotate(-45)" text-anchor="end" font-family='"Liberation Sans", Arial, sans-serif' font-size="6.3" fill="#747474" textLength="46.5" lengthAdjust="spacing">PATHOGENIC</text>
<rect x="643.04" y="303.19" width="2.3" height="4.01" fill="#ed7d31"/>
<text transform="translate(646.49,299.99) rotate(-90)" font-family='"Liberation Sans", Arial, sans-serif' font-size="6.4" fill="#7a7a7a" textLength="13.2" lengthAdjust="spacingAndGlyphs">5.28</text>
<text transform="translate(645.79,315.60) rotate(-45)" text-anchor="end" font-family='"Liberation Sans", Arial, sans-serif' font-size="6.3" fill="#747474" textLength="51" lengthAdjust="spacing">LIKELY PATHO</text>
<rect x="657.06" y="294.26" width="2.3" height="12.94" fill="#ed7d31"/>
<text transform="translate(660.51,291.06) rotate(-90)" font-family='"Liberation Sans", Arial, sans-serif' font-size="6.4" fill="#7a7a7a" textLength="16.5" lengthAdjust="spacingAndGlyphs">17.03</text>
<text transform="translate(659.81,315.60) rotate(-45)" text-anchor="end" font-family='"Liberation Sans", Arial, sans-serif' font-size="6.3" fill="#747474" textLength="51" lengthAdjust="spacing">LIKELY PATHO</text>
<text x="5.6" y="391.6" font-family='"Liberation Serif", "Times New Roman", serif' font-weight="bold" font-size="13.5">(b)</text>
<text x="357.5" y="394.4" text-anchor="middle" font-family='"Liberation Sans", Arial, sans-serif' font-weight="bold" font-size="15.1" textLength="75.3" lengthAdjust="spacingAndGlyphs">BCR-ABL1</text>
<rect x="0" y="406.3" width="685" height="64.8" fill="#e6faf6"/>
<text x="6.1" y="418.8" font-family='"Liberation Mono", "Courier New", monospace' font-size="13.4" fill="#222" stroke="#222" stroke-width="0.3" textLength="38.3" lengthAdjust="spacingAndGlyphs">Chr 9</text>
<clipPath id="c9p"><path d="M5.6,459.4 H211.5 Q214.5,459.4 216.3,464.5 Q214.5,469.6 211.5,469.6 H5.6 Z"/></clipPath>
<clipPath id="c9q"><path d="M228,459.4 H681.2 V469.6 H228 Q220,469.6 216.3,464.5 Q220,459.4 228,459.4 Z"/></clipPath>
<g clip-path="url(#c9p)">
<rect x="5.6" y="459.4" width="10.2" height="10.2" fill="#f4fbff"/>
<rect x="15.8" y="459.4" width="12.3" height="10.2" fill="url(#gB1)"/>
<rect x="28.1" y="459.4" width="21.7" height="10.2" fill="#f4fbff"/>
<rect x="49.8" y="459.4" width="24.3" height="10.2" fill="#66758f"/>
<rect x="74.1" y="459.4" width="11.5" height="10.2" fill="#f4fbff"/>
<rect x="85.6" y="459.4" width="10.2" height="10.2" fill="url(#gB1)"/>
<rect x="95.8" y="459.4" width="6.9" height="10.2" fill="#f4fbff"/>
<rect x="102.7" y="459.4" width="26.8" height="10.2" fill="#000"/>
<rect x="129.5" y="459.4" width="12.8" height="10.2" fill="#f4fbff"/>
<rect x="142.3" y="459.4" width="23.9" height="10.2" fill="#000"/>
<rect x="166.2" y="459.4" width="16.8" height="10.2" fill="#f4fbff"/>
<rect x="183" y="459.4" width="7.1" height="10.2" fill="#a8b6da"/>
<rect x="190.1" y="459.4" width="5.7" height="10.2" fill="#f4fbff"/>
<rect x="195.8" y="459.4" width="5.1" height="10.2" fill="#a8b6da"/>
<rect x="200.9" y="459.4" width="16.1" height="10.2" fill="#f4fbff"/>
</g><g clip-path="url(#c9q)">
<rect x="216" y="459.4" width="12.3" height="10.2" fill="#f4fbff"/>
<rect x="228.3" y="459.4" width="77.3" height="10.2" fill="#a8b6da"/>
<rect x="305.6" y="459.4" width="17.1" height="10.2" fill="#f4fbff"/>
<rect x="322.7" y="459.4" width="20.8" height="10.2" fill="#a8b6da"/>
<rect x="343.5" y="459.4" width="9.7" height="10.2" fill="#f4fbff"/>
<rect x="353.2" y="459.4" width="26.1" height="10.2" fill="#a8b6da"/>
<rect x="379.3" y="459.4" width="9.7" height="10.2" fill="#f4fbff"/>
<rect x="389" y="459.4" width="14.0" height="10.2" fill="#a8b6da"/>
<rect x="403" y="459.4" width="14.1" height="10.2" fill="#f4fbff"/>
<rect x="417.1" y="459.4" width="17.1" height="10.2" fill="#a8b6da"/>
<rect x="434.2" y="459.4" width="7.2" height="10.2" fill="#f4fbff"/>
<rect x="441.4" y="459.4" width="8.9" height="10.2" fill="#a8b6da"/>
<rect x="450.3" y="459.4" width="13.3" height="10.2" fill="#f4fbff"/>
<rect x="463.6" y="459.4" width="12.8" height="10.2" fill="#a8b6da"/>
<rect x="476.4" y="459.4" width="15.9" height="10.2" fill="#f4fbff"/>
<rect x="492.3" y="459.4" width="27.7" height="10.2" fill="#000"/>
<rect x="520" y="459.4" width="14.6" height="10.2" fill="#f4fbff"/>
<rect x="534.6" y="459.4" width="18.1" height="10.2" fill="#a8b6da"/>
<rect x="552.7" y="459.4" width="14.1" height="10.2" fill="#f4fbff"/>
<rect x="566.8" y="459.4" width="22.4" height="10.2" fill="#66758f"/>
<rect x="589.2" y="459.4" width="17.0" height="10.2" fill="#f4fbff"/>
<rect x="606.2" y="459.4" width="21.0" height="10.2" fill="#a8b6da"/>
<rect x="627.2" y="459.4" width="28.0" height="10.2" fill="#f4fbff"/>
<rect x="655.2" y="459.4" width="6.4" height="10.2" fill="#a8b6da"/>
<rect x="661.6" y="459.4" width="19.6" height="10.2" fill="#f4fbff"/>
</g>
<path d="M5.6,459.4 H211.5 Q214.5,459.4 216.3,464.5 Q214.5,469.6 211.5,469.6 H5.6 Z" fill="none" stroke="#111" stroke-width="1"/>
<path d="M228,459.4 H681.2 V469.6 H228 Q220,469.6 216.3,464.5 Q220,459.4 228,459.4 Z" fill="none" stroke="#111" stroke-width="1"/>
<text transform="translate(10.600000000000001,455.6) rotate(-90)" font-family='"Liberation Sans", Arial, sans-serif' font-size="10" fill="#111" stroke="#111" stroke-width="0.25">p24.3</text>
<text transform="translate(23.7,455.6) rotate(-90)" font-family='"Liberation Sans", Arial, sans-serif' font-size="10" fill="#111" stroke="#111" stroke-width="0.25">p24.2</text>
<text transform="translate(39.5,455.6) rotate(-90)" font-family='"Liberation Sans", Arial, sans-serif' font-size="10" fill="#111" stroke="#111" stroke-width="0.25">p24.1</text>
<text transform="translate(62.6,455.6) rotate(-90)" font-family='"Liberation Sans", Arial, sans-serif' font-size="10" fill="#111" stroke="#111" stroke-width="0.25">p23</text>
<text transform="translate(81.0,455.6) rotate(-90)" font-family='"Liberation Sans", Arial, sans-serif' font-size="10" fill="#111" stroke="#111" stroke-width="0.25">p22.3</text>
<text transform="translate(117.5,455.6) rotate(-90)" font-family='"Liberation Sans", Arial, sans-serif' font-size="10" fill="#111" stroke="#111" stroke-width="0.25">p21.3</text>
<text transform="translate(136.7,455.6) rotate(-90)" font-family='"Liberation Sans", Arial, sans-serif' font-size="10" fill="#111" stroke="#111" stroke-width="0.25">p21.2</text>
<text transform="translate(155.1,455.6) rotate(-90)" font-family='"Liberation Sans", Arial, sans-serif' font-size="10" fill="#111" stroke="#111" stroke-width="0.25">p21.1</text>
<text transform="translate(176.0,455.6) rotate(-90)" font-family='"Liberation Sans", Arial, sans-serif' font-size="10" fill="#111" stroke="#111" stroke-width="0.25">p13.3</text>
<text transform="translate(206.7,455.6) rotate(-90)" font-family='"Liberation Sans", Arial, sans-serif' font-size="10" fill="#111" stroke="#111" stroke-width="0.25">p11.2</text>
<text transform="translate(222.7,455.6) rotate(-90)" font-family='"Liberation Sans", Arial, sans-serif' font-size="10" fill="#111" stroke="#111" stroke-width="0.25">q11</text>
<text transform="translate(267.5,455.6) rotate(-90)" font-family='"Liberation Sans", Arial, sans-serif' font-size="10" fill="#111" stroke="#111" stroke-width="0.25">q12</text>
<text transform="translate(314.0,455.6) rotate(-90)" font-family='"Liberation Sans", Arial, sans-serif' font-size="10" fill="#111" stroke="#111" stroke-width="0.25">q13</text>
<text transform="translate(333.4,455.6) rotate(-90)" font-family='"Liberation Sans", Arial, sans-serif' font-size="10" fill="#111" stroke="#111" stroke-width="0.25">q21.11</text>
<text transform="translate(349.5,455.6) rotate(-90)" font-family='"Liberation Sans", Arial, sans-serif' font-size="10" fill="#111" stroke="#111" stroke-width="0.25">q21.12</text>
<text transform="translate(366.7,455.6) rotate(-90)" font-family='"Liberation Sans", Arial, sans-serif' font-size="10" fill="#111" stroke="#111" stroke-width="0.25">q21.13</text>
<text transform="translate(396.8,455.6) rotate(-90)" font-family='"Liberation Sans", Arial, sans-serif' font-size="10" fill="#111" stroke="#111" stroke-width="0.25">q21.31</text>
<text transform="translate(410.8,455.6) rotate(-90)" font-family='"Liberation Sans", Arial, sans-serif' font-size="10" fill="#111" stroke="#111" stroke-width="0.25">q21.32</text>
<text transform="translate(426.2,455.6) rotate(-90)" font-family='"Liberation Sans", Arial, sans-serif' font-size="10" fill="#111" stroke="#111" stroke-width="0.25">q21.33</text>
<text transform="translate(445.3,455.6) rotate(-90)" font-family='"Liberation Sans", Arial, sans-serif' font-size="10" fill="#111" stroke="#111" stroke-width="0.25">q22.2</text>
<text transform="translate(458.09999999999997,455.6) rotate(-90)" font-family='"Liberation Sans", Arial, sans-serif' font-size="10" fill="#111" stroke="#111" stroke-width="0.25">q22.31</text>
<text transform="translate(472.2,455.6) rotate(-90)" font-family='"Liberation Sans", Arial, sans-serif' font-size="10" fill="#111" stroke="#111" stroke-width="0.25">q22.32</text>
<text transform="translate(486.2,455.6) rotate(-90)" font-family='"Liberation Sans", Arial, sans-serif' font-size="10" fill="#111" stroke="#111" stroke-width="0.25">q22.33</text>
<text transform="translate(507.59999999999997,455.6) rotate(-90)" font-family='"Liberation Sans", Arial, sans-serif' font-size="10" fill="#111" stroke="#111" stroke-width="0.25">q31.1</text>
<text transform="translate(528.6,455.6) rotate(-90)" font-family='"Liberation Sans", Arial, sans-serif' font-size="10" fill="#111" stroke="#111" stroke-width="0.25">q31.2</text>
<text transform="translate(544.6,455.6) rotate(-90)" font-family='"Liberation Sans", Arial, sans-serif' font-size="10" fill="#111" stroke="#111" stroke-width="0.25">q31.3</text>
<text transform="translate(560.7,455.6) rotate(-90)" font-family='"Liberation Sans", Arial, sans-serif' font-size="10" fill="#111" stroke="#111" stroke-width="0.25">q32</text>
<text transform="translate(578.8000000000001,455.6) rotate(-90)" font-family='"Liberation Sans", Arial, sans-serif' font-size="10" fill="#111" stroke="#111" stroke-width="0.25">q33.1</text>
<text transform="translate(599.2,455.6) rotate(-90)" font-family='"Liberation Sans", Arial, sans-serif' font-size="10" fill="#111" stroke="#111" stroke-width="0.25">q33.2</text>
<text transform="translate(617.6,455.6) rotate(-90)" font-family='"Liberation Sans", Arial, sans-serif' font-size="10" fill="#111" stroke="#111" stroke-width="0.25">q33.3</text>
<text transform="translate(635.1,455.6) rotate(-90)" font-family='"Liberation Sans", Arial, sans-serif' font-size="10" fill="#111" stroke="#111" stroke-width="0.25">q34.11</text>
<text transform="translate(650.6,455.6) rotate(-90)" font-family='"Liberation Sans", Arial, sans-serif' font-size="10" fill="#111" stroke="#111" stroke-width="0.25">q34.13</text>
<text transform="translate(671.6,455.6) rotate(-90)" font-family='"Liberation Sans", Arial, sans-serif' font-size="10" fill="#111" stroke="#111" stroke-width="0.25">q34.3</text>
<path d="M644.3,456 V484" stroke="#ff0000" stroke-width="2.8" fill="none"/>
<path d="M639.9,482.2 H648.7 L644.3,490.6 Z" fill="#ff0000"/>
<path d="M16.6,549.2 L644.2,491.5 L668.5,557.3" fill="none" stroke="#ff0000" stroke-width="1.4" stroke-linejoin="round"/>
<path d="M16.5,548.4 H662.5 A6.5,28.0 0 0 1 662.5,604.4 H16.5 A6.5,28.0 0 0 1 16.5,548.4 Z" fill="#4472c4" stroke="#2f528f" stroke-width="0.6"/>
<path d="M568,548.4 H662.5 A6.5,28.0 0 0 1 662.5,604.4 H568 A7,28.0 0 0 1 568,548.4 Z" fill="url(#gCterm)"/>
<ellipse cx="568" cy="576.4" rx="7" ry="28.0" fill="#b5d7a0" stroke="#8fbf70" stroke-width="0.5"/>
<path d="M561,548.4 H662.5 A6.5,28.0 0 0 1 662.5,604.4 H561" fill="none" stroke="#3f6cc0" stroke-width="1.1"/>
<path d="M16.5,548.4 H76 A6.5,28.0 0 0 1 76,604.4 H16.5 A6.5,28.0 0 0 1 16.5,548.4 Z" fill="#70ad47" stroke="#507e32" stroke-width="0.6"/>
<ellipse cx="16.5" cy="576.4" rx="6.5" ry="28.0" fill="#a9d18e" stroke="#507e32" stroke-width="0.6"/>
<path d="M164.5,548.7 H249 A6.2,28.399999999999977 0 0 1 249,605.5 H164.5 A6.1,28.399999999999977 0 0 1 164.5,548.7 Z" fill="#ed7d31" stroke="#ae5a21" stroke-width="0.6"/>
<ellipse cx="164.5" cy="577.1" rx="6.1" ry="28.399999999999977" fill="#f4b183" stroke="#ae5a21" stroke-width="0.6"/>
<path d="M366,548.4 H483.2 A6.4,28.0 0 0 1 483.2,604.4 H366 A6.4,28.0 0 0 1 367,548.4 Z" fill="#ffc000" stroke="#bc8c00" stroke-width="0.6"/>
<ellipse cx="366.4" cy="576.4" rx="6.8" ry="28.0" fill="#ffd966" stroke="#bc8c00" stroke-width="0.6"/>
<text x="51.3" y="581.6" text-anchor="middle" font-family='"Liberation Sans", Arial, sans-serif' font-weight="bold" font-size="13.1" fill="#fff" textLength="41.3" lengthAdjust="spacingAndGlyphs">P-Loop</text>
<text x="114.8" y="583" text-anchor="middle" font-family='"Liberation Sans", Arial, sans-serif' font-weight="bold" font-size="13.1" fill="#fff" textLength="41.5" lengthAdjust="spacingAndGlyphs">C-helix</text>
<text x="214.5" y="575.4" text-anchor="middle" font-family='"Liberation Sans", Arial, sans-serif' font-weight="bold" font-size="13.1" fill="#fff" textLength="72" lengthAdjust="spacingAndGlyphs">ATP binding</text>
<text x="214.5" y="592.2" text-anchor="middle" font-family='"Liberation Sans", Arial, sans-serif' font-weight="bold" font-size="13.1" fill="#fff" textLength="38.5" lengthAdjust="spacingAndGlyphs">region</text>
<text x="307.2" y="583" text-anchor="middle" font-family='"Liberation Sans", Arial, sans-serif' font-weight="bold" font-size="13.1" fill="#fff" textLength="73" lengthAdjust="spacingAndGlyphs">SH2 Contact</text>
<text x="430.2" y="571.3" text-anchor="middle" font-family='"Liberation Sans", Arial, sans-serif' font-weight="bold" font-size="13.1" fill="#fff" textLength="57" lengthAdjust="spacingAndGlyphs">Substrate</text>
<text x="430" y="588.5" text-anchor="middle" font-family='"Liberation Sans", Arial, sans-serif' font-weight="bold" font-size="13.1" fill="#fff" textLength="88.5" lengthAdjust="spacingAndGlyphs">binding region</text>
<text x="525" y="582.6" text-anchor="middle" font-family='"Liberation Sans", Arial, sans-serif' font-weight="bold" font-size="13.1" fill="#fff" textLength="43" lengthAdjust="spacingAndGlyphs">A-Loop</text>
<text x="620" y="582.6" text-anchor="middle" font-family='"Liberation Sans", Arial, sans-serif' font-weight="bold" font-size="13.1" fill="#fff" textLength="64" lengthAdjust="spacingAndGlyphs">C-Terminal</text>
<path d="M42.6,604.6 V713.2 H52 M42.6,660.5 H52" fill="none" stroke="#ed7d31" stroke-width="2.8"/>
<path d="M203.4,605.6 V651.3 H212" fill="none" stroke="#ed7d31" stroke-width="2.8"/>
<path d="M312.3,604.6 V714 H322 M312.3,659.8 H322" fill="none" stroke="#ed7d31" stroke-width="2.8"/>
<path d="M621.2,604.6 V651.3 H612" fill="none" stroke="#ed7d31" stroke-width="2.8"/>
<rect x="51.9" y="636.8" width="73.6" height="46.2" rx="6.5" fill="#70ad47" stroke="#507e32" stroke-width="0.9"/>
<text x="88.7" y="655.2" text-anchor="middle" font-family='"Liberation Sans", Arial, sans-serif' font-weight="bold" font-size="14.6" fill="#fff" textLength="44.6" lengthAdjust="spacingAndGlyphs">G250E</text>
<text x="88.7" y="675.0" text-anchor="middle" font-family='"Liberation Sans", Arial, sans-serif' font-weight="bold" font-size="14.6" fill="#fff" textLength="35" lengthAdjust="spacingAndGlyphs">(n=2)</text>
<rect x="51.9" y="692" width="73.6" height="45.8" rx="6.5" fill="#70ad47" stroke="#507e32" stroke-width="0.9"/>
<text x="88.7" y="710.4" text-anchor="middle" font-family='"Liberation Sans", Arial, sans-serif' font-weight="bold" font-size="14.6" fill="#fff" textLength="42.5" lengthAdjust="spacingAndGlyphs">E279K</text>
<text x="88.7" y="730.2" text-anchor="middle" font-family='"Liberation Sans", Arial, sans-serif' font-weight="bold" font-size="14.6" fill="#fff" textLength="35" lengthAdjust="spacingAndGlyphs">(n=1)</text>
<rect x="211.4" y="629.8" width="73.9" height="47.2" rx="6.5" fill="#70ad47" stroke="#507e32" stroke-width="0.9"/>
<text x="248.4" y="649.0" text-anchor="middle" font-family='"Liberation Sans", Arial, sans-serif' font-weight="bold" font-size="14.6" fill="#fff" textLength="37" lengthAdjust="spacingAndGlyphs">T315I</text>
<text x="248.4" y="668.8" text-anchor="middle" font-family='"Liberation Sans", Arial, sans-serif' font-weight="bold" font-size="14.6" fill="#fff" textLength="35" lengthAdjust="spacingAndGlyphs">(n=6)</text>
<rect x="321.7" y="636.8" width="74.6" height="46.0" rx="6.5" fill="#70ad47" stroke="#507e32" stroke-width="0.9"/>
<text x="359.0" y="655.2" text-anchor="middle" font-family='"Liberation Sans", Arial, sans-serif' font-weight="bold" font-size="14.6" fill="#fff" textLength="45" lengthAdjust="spacingAndGlyphs">Y342H</text>
<text x="359.0" y="675.0" text-anchor="middle" font-family='"Liberation Sans", Arial, sans-serif' font-weight="bold" font-size="14.6" fill="#fff" textLength="35" lengthAdjust="spacingAndGlyphs">(n=1)</text>
<rect x="321.7" y="692" width="74.6" height="46.6" rx="6.5" fill="#70ad47" stroke="#507e32" stroke-width="0.9"/>
<text x="359.0" y="710.4" text-anchor="middle" font-family='"Liberation Sans", Arial, sans-serif' font-weight="bold" font-size="14.6" fill="#fff" textLength="37.5" lengthAdjust="spacingAndGlyphs">F459I</text>
<text x="359.0" y="730.2" text-anchor="middle" font-family='"Liberation Sans", Arial, sans-serif' font-weight="bold" font-size="14.6" fill="#fff" textLength="35" lengthAdjust="spacingAndGlyphs">(n=1)</text>
<rect x="537.7" y="635.8" width="74.4" height="46.2" rx="6.5" fill="#70ad47" stroke="#507e32" stroke-width="0.9"/>
<text x="574.9" y="654.5" text-anchor="middle" font-family='"Liberation Sans", Arial, sans-serif' font-weight="bold" font-size="14.6" fill="#fff" textLength="40.3" lengthAdjust="spacingAndGlyphs">F486S</text>
<text x="574.9" y="674.3" text-anchor="middle" font-family='"Liberation Sans", Arial, sans-serif' font-weight="bold" font-size="14.6" fill="#fff" textLength="35" lengthAdjust="spacingAndGlyphs">(n=1)</text>
<text x="332" y="769.8" text-anchor="middle" font-family='"Liberation Sans", Arial, sans-serif' font-weight="bold" font-size="19.5" fill="#808080" textLength="240.5" lengthAdjust="spacing">ABL GENE MUTATIONS</text>
<text x="62" y="794.0" text-anchor="end" font-family='"Liberation Sans", Arial, sans-serif' font-size="10.8" fill="#595959" textLength="12.2" lengthAdjust="spacingAndGlyphs">60</text>
<text x="62" y="815.9" text-anchor="end" font-family='"Liberation Sans", Arial, sans-serif' font-size="10.8" fill="#595959" textLength="12.2" lengthAdjust="spacingAndGlyphs">40</text>
<text x="62" y="838.0" text-anchor="end" font-family='"Liberation Sans", Arial, sans-serif' font-size="10.8" fill="#595959" textLength="12.2" lengthAdjust="spacingAndGlyphs">20</text>
<text x="62" y="859.5" text-anchor="end" font-family='"Liberation Sans", Arial, sans-serif' font-size="10.8" fill="#595959" textLength="6.1" lengthAdjust="spacingAndGlyphs">0</text>
<rect x="87.46" y="806.56" width="17.4" height="48.74" fill="url(#stripe)"/>
<rect x="87.46" y="806.56" width="17.4" height="48.74" fill="url(#gBarH)"/>
<text x="96.16" y="798.26" text-anchor="middle" font-family='"Liberation Sans", Arial, sans-serif' font-size="10.5" fill="#404040" textLength="28.6" lengthAdjust="spacingAndGlyphs">45.64</text>
<text transform="translate(92.96,862) rotate(90)" font-family='"Liberation Sans", Arial, sans-serif' font-size="10.8" fill="#595959" textLength="31.7" lengthAdjust="spacingAndGlyphs">G250E</text>
<rect x="132.38" y="824.39" width="17.4" height="30.91" fill="url(#stripe)"/>
<rect x="132.38" y="824.39" width="17.4" height="30.91" fill="url(#gBarH)"/>
<text x="141.08" y="816.09" text-anchor="middle" font-family='"Liberation Sans", Arial, sans-serif' font-size="10.5" fill="#404040" textLength="28.6" lengthAdjust="spacingAndGlyphs">28.94</text>
<text transform="translate(137.88,862) rotate(90)" font-family='"Liberation Sans", Arial, sans-serif' font-size="10.8" fill="#595959" textLength="31.7" lengthAdjust="spacingAndGlyphs">G250E</text>
<rect x="177.30" y="814.61" width="17.4" height="40.69" fill="url(#stripe)"/>
<rect x="177.30" y="814.61" width="17.4" height="40.69" fill="url(#gBarH)"/>
<text x="186.00" y="806.31" text-anchor="middle" font-family='"Liberation Sans", Arial, sans-serif' font-size="10.5" fill="#404040" textLength="22.2" lengthAdjust="spacingAndGlyphs">38.1</text>
<text transform="translate(182.80,862) rotate(90)" font-family='"Liberation Sans", Arial, sans-serif' font-size="10.8" fill="#595959" textLength="27.4" lengthAdjust="spacingAndGlyphs">T315I</text>
<rect x="222.22" y="806.24" width="17.4" height="49.06" fill="url(#stripe)"/>
<rect x="222.22" y="806.24" width="17.4" height="49.06" fill="url(#gBarH)"/>
<text x="230.92" y="797.94" text-anchor="middle" font-family='"Liberation Sans", Arial, sans-serif' font-size="10.5" fill="#404040" textLength="28.6" lengthAdjust="spacingAndGlyphs">45.94</text>
<text transform="translate(227.72,862) rotate(90)" font-family='"Liberation Sans", Arial, sans-serif' font-size="10.8" fill="#595959" textLength="27.4" lengthAdjust="spacingAndGlyphs">T315I</text>
<rect x="267.14" y="838.60" width="17.4" height="16.70" fill="url(#stripe)"/>
<rect x="267.14" y="838.60" width="17.4" height="16.70" fill="url(#gBarH)"/>
<text x="275.84" y="830.30" text-anchor="middle" font-family='"Liberation Sans", Arial, sans-serif' font-size="10.5" fill="#404040" textLength="28.6" lengthAdjust="spacingAndGlyphs">15.64</text>
<text transform="translate(272.64,862) rotate(90)" font-family='"Liberation Sans", Arial, sans-serif' font-size="10.8" fill="#595959" textLength="27.4" lengthAdjust="spacingAndGlyphs">T315I</text>
<rect x="312.06" y="821.66" width="17.4" height="33.64" fill="url(#stripe)"/>
<rect x="312.06" y="821.66" width="17.4" height="33.64" fill="url(#gBarH)"/>
<text x="320.76" y="813.36" text-anchor="middle" font-family='"Liberation Sans", Arial, sans-serif' font-size="10.5" fill="#404040" textLength="22.2" lengthAdjust="spacingAndGlyphs">31.5</text>
<text transform="translate(317.56,862) rotate(90)" font-family='"Liberation Sans", Arial, sans-serif' font-size="10.8" fill="#595959" textLength="30.0" lengthAdjust="spacingAndGlyphs">E279K</text>
<rect x="356.98" y="812.90" width="17.4" height="42.40" fill="url(#stripe)"/>
<rect x="356.98" y="812.90" width="17.4" height="42.40" fill="url(#gBarH)"/>
<text x="365.68" y="804.60" text-anchor="middle" font-family='"Liberation Sans", Arial, sans-serif' font-size="10.5" fill="#404040" textLength="22.2" lengthAdjust="spacingAndGlyphs">39.7</text>
<text transform="translate(362.48,862) rotate(90)" font-family='"Liberation Sans", Arial, sans-serif' font-size="10.8" fill="#595959" textLength="27.4" lengthAdjust="spacingAndGlyphs">T315I</text>
<rect x="401.90" y="816.21" width="17.4" height="39.09" fill="url(#stripe)"/>
<rect x="401.90" y="816.21" width="17.4" height="39.09" fill="url(#gBarH)"/>
<text x="410.60" y="807.91" text-anchor="middle" font-family='"Liberation Sans", Arial, sans-serif' font-size="10.5" fill="#404040" textLength="22.2" lengthAdjust="spacingAndGlyphs">36.6</text>
<text transform="translate(407.40,862) rotate(90)" font-family='"Liberation Sans", Arial, sans-serif' font-size="10.8" fill="#595959" textLength="27.4" lengthAdjust="spacingAndGlyphs">T315I</text>
<rect x="446.82" y="843.27" width="17.4" height="12.03" fill="url(#stripe)"/>
<rect x="446.82" y="843.27" width="17.4" height="12.03" fill="url(#gBarH)"/>
<text x="455.52" y="834.97" text-anchor="middle" font-family='"Liberation Sans", Arial, sans-serif' font-size="10.5" fill="#404040" textLength="28.6" lengthAdjust="spacingAndGlyphs">11.26</text>
<text transform="translate(452.32,862) rotate(90)" font-family='"Liberation Sans", Arial, sans-serif' font-size="10.8" fill="#595959" textLength="31.7" lengthAdjust="spacingAndGlyphs">Y342H</text>
<rect x="491.74" y="824.47" width="17.4" height="30.83" fill="url(#stripe)"/>
<rect x="491.74" y="824.47" width="17.4" height="30.83" fill="url(#gBarH)"/>
<text x="500.44" y="816.17" text-anchor="middle" font-family='"Liberation Sans", Arial, sans-serif' font-size="10.5" fill="#404040" textLength="28.6" lengthAdjust="spacingAndGlyphs">28.87</text>
<text transform="translate(497.24,862) rotate(90)" font-family='"Liberation Sans", Arial, sans-serif' font-size="10.8" fill="#595959" textLength="27.4" lengthAdjust="spacingAndGlyphs">T315I</text>
<rect x="536.66" y="822.86" width="17.4" height="32.44" fill="url(#stripe)"/>
<rect x="536.66" y="822.86" width="17.4" height="32.44" fill="url(#gBarH)"/>
<text x="545.36" y="814.56" text-anchor="middle" font-family='"Liberation Sans", Arial, sans-serif' font-size="10.5" fill="#404040" textLength="28.6" lengthAdjust="spacingAndGlyphs">30.37</text>
<text transform="translate(542.16,862) rotate(90)" font-family='"Liberation Sans", Arial, sans-serif' font-size="10.8" fill="#595959" textLength="29.3" lengthAdjust="spacingAndGlyphs">F486S</text>
<rect x="581.58" y="833.67" width="17.4" height="21.63" fill="url(#stripe)"/>
<rect x="581.58" y="833.67" width="17.4" height="21.63" fill="url(#gBarH)"/>
<text x="590.28" y="825.37" text-anchor="middle" font-family='"Liberation Sans", Arial, sans-serif' font-size="10.5" fill="#404040" textLength="28.6" lengthAdjust="spacingAndGlyphs">20.25</text>
<text transform="translate(587.08,862) rotate(90)" font-family='"Liberation Sans", Arial, sans-serif' font-size="10.8" fill="#595959" textLength="26.8" lengthAdjust="spacingAndGlyphs">F359I</text>
<path d="M73.7,856.0999999999999 H612.7" stroke="#bfbfbf" stroke-width="1.6"/>
</svg>
</body></html>
